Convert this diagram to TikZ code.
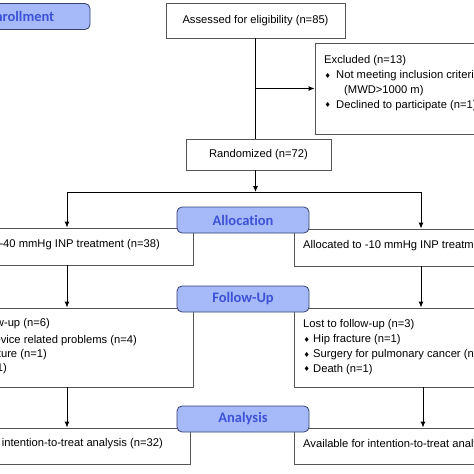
\documentclass[tikz,border=0pt]{standalone}
\usepackage{amssymb}
\usepackage{fontspec}
\setmainfont{Liberation Sans}
\newfontfamily\lblfont[Ligatures={NoCommon,NoDiscretionary}]{Carlito}
\usetikzlibrary{arrows.meta}
\definecolor{lblfill}{RGB}{166,186,250}
\definecolor{lbltext}{RGB}{60,82,214}
\definecolor{lbldraw}{RGB}{55,65,110}
\definecolor{boxgray}{RGB}{85,85,85}
\newcommand\mybul[1]{\makebox[#1][l]{\hspace*{0.8pt}\raisebox{1.2pt}{$\scriptscriptstyle\blacklozenge$}}}
\begin{document}
\begin{tikzpicture}[x=1pt,y=-1pt,
  box/.style 2 args={draw=boxgray,line width=0.9pt,fill=white,inner sep=0pt,
    minimum width=#1 pt,minimum height=#2 pt},
  txt/.style={inner sep=0pt,font=\fontsize{11.2}{14.8}\selectfont,align=left},
  lbl/.style={rounded corners=5pt,fill=lblfill,draw=lbldraw,line width=0.8pt,
    text=lbltext,font=\lblfont\bfseries\fontsize{14.5}{16}\selectfont,
    minimum width=132pt,minimum height=26pt,inner sep=0pt},
  conn/.style={draw=black,line width=0.9pt},
  arr/.style={conn,-{Latex[length=6pt,width=5pt]}}]
\useasboundingbox (0,0) rectangle (474,474);
\fill[white] (0,0) rectangle (474,474);
\clip (0,0) rectangle (474,474);

% white boxes
\node[box={179}{35},txt] (assess) at (255.5,20.5) {Assessed for eligibility (n=85)};
\node[box={245}{91}] (excl) at (437.5,88.5) {};
\node[box={145}{31},txt] (rand) at (258.5,154.5) {Randomized (n=72)};
\node[box={283}{37}] (lalloc) at (51.5,246.5) {};
\node[box={266}{37}] (ralloc) at (427,247.5) {};
\node[box={283}{79}] (lfu) at (51.5,347.5) {};
\node[box={266}{79}] (rfu) at (427,347.5) {};
\node[box={280}{36}] (lana) at (50,446) {};
\node[box={266}{36}] (rana) at (427,446) {};

% texts
\node[txt,anchor=west] (excltxt) at (324,83)
  {Excluded (n=13)\\
   \hspace*{0pt}\mybul{12pt}Not meeting inclusion criteria (n=12)\\
   \hspace*{20pt}(MWD>1000 m)\\
   \hspace*{0pt}\mybul{12pt}Declined to participate (n=1)};
\node[txt,anchor=east] (lalloctxt) at (160,245) {Allocated to -40 mmHg INP treatment (n=38)};
\node[txt,anchor=west] (ralloctxt) at (303,246) {Allocated to -10 mmHg INP treatment (n=34)};
\node[txt,anchor=east] (lfu1) at (50,324) {Lost to follow-up (n=6)};
\node[txt,anchor=east] (lfu2) at (137,341) {\mybul{10pt}Device related problems (n=4)};
\node[txt,anchor=east] (lfu3) at (47,355) {\mybul{10pt}Hip fracture (n=1)};
\node[txt,anchor=east] (lfu4) at (7,369) {\mybul{10pt}Death (n=1)};
\node[txt,anchor=west] (rfutxt) at (303,347)
  {Lost to follow-up (n=3)\\
   \mybul{10pt}Hip fracture (n=1)\\
   \mybul{10pt}Surgery for pulmonary cancer (n=1)\\
   \mybul{10pt}Death (n=1)};
\node[txt,anchor=east] (lanatxt) at (163,444) {Available for intention-to-treat analysis (n=32)};
\node[txt,anchor=west] (ranatxt) at (303,445) {Available for intention-to-treat analysis (n=34)};

% labels
\node[lbl] (enroll) at (24,16.5) {\hspace*{-6pt}Enrollment};
\node[lbl] (alloclbl) at (243,220) {Allocation};
\node[lbl] (fulbl) at (243,299) {Follow-Up};
\node[lbl] (analbl) at (243,419) {Analysis};

% connectors
\coordinate (lcol) at (67,0);
\coordinate (rcol) at (421,0);
\coordinate (split) at (255.5,192);
\draw[conn] (assess.south) -- (assess.south |- rand.north);
\draw[arr] (assess.south |- excl.west) -- (excl.west);
\draw[arr] (rand.south -| split) -- (split);
\draw[conn] (lcol |- split) -- (rcol |- split);
\draw[arr] (lcol |- split) -- (lcol |- lalloc.north);
\draw[arr] (rcol |- split) -- (rcol |- ralloc.north);
\draw[arr] (lcol |- lalloc.south) -- (lcol |- lfu.north);
\draw[arr] (rcol |- ralloc.south) -- (rcol |- rfu.north);
\draw[arr] (lcol |- lfu.south) -- (lcol |- lana.north);
\coordinate (rcolb) at (423,0);
\draw[arr] (rcolb |- rfu.south) -- (rcolb |- rana.north);
\end{tikzpicture}
\end{document}
